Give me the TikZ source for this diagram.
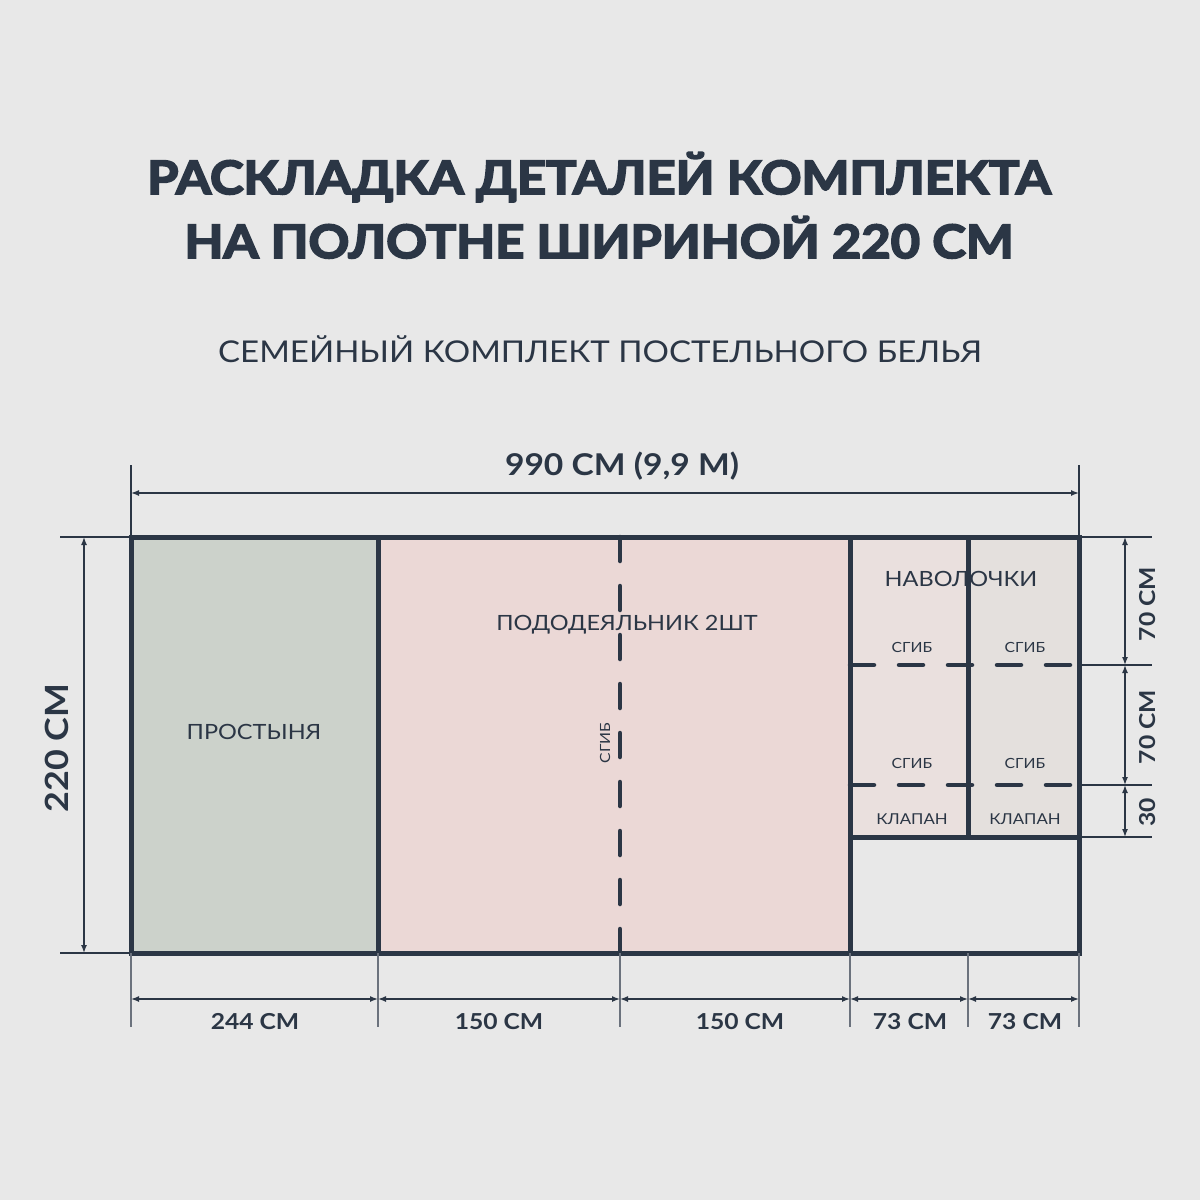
\documentclass[tikz,border=0pt]{standalone}
\usepackage{fontspec}
\setmainfont{Lato}[FakeStretch=1.12]
\newfontfamily\heavyfont{Lato}[FakeStretch=1.1,BoldFeatures={FakeBold=4}]
\newfontfamily\subfont{Lato}[FakeStretch=1.1]
\usetikzlibrary{arrows.meta}
\definecolor{ink}{HTML}{2B3645}
\definecolor{bg}{HTML}{E8E8E8}
\definecolor{sheetc}{HTML}{CCD2CB}
\definecolor{duvetc}{HTML}{EBD8D6}
\definecolor{pillowa}{HTML}{EAE0DE}
\definecolor{pillowb}{HTML}{E4E0DD}
\newcommand{\fsz}[1]{\fontsize{#1}{#1}\selectfont}
\tikzset{
  frame/.style={draw=ink,line width=5pt,line cap=butt},
  foldline/.style={draw=ink,line width=4.5pt,line cap=round,dash pattern=on 24pt off 25pt},
  extline/.style={draw=ink,line width=1.1pt},
  extgray/.style={draw=ink!70,line width=1.1pt},
  dimline/.style={draw=ink,line width=1.4pt,{Latex[length=8pt,width=6pt]}-{Latex[length=8pt,width=6pt]}},
  lbl/.style={text=ink,inner sep=0pt,anchor=base},
}
\begin{document}
\begin{tikzpicture}[x=1pt,y=-1pt]
\fill[bg] (0,0) rectangle (1200,1200);
\useasboundingbox (0,0) rectangle (1200,1200);

% corners
\coordinate (A) at (131,537);
\coordinate (B) at (1079,953);

% fills
\fill[sheetc] (131,537) rectangle (378,953);
\fill[duvetc] (378,537) rectangle (850,953);
\fill[pillowa] (850,537) rectangle (968,837);
\fill[pillowb] (968,537) rectangle (1079,837);

% fold lines
\coordinate (fT) at (620,537);
\coordinate (fB) at (620,953);
\draw[foldline] (fT) -- (fB);
\coordinate (h1a) at (850,665); \coordinate (h1b) at (1079,665);
\coordinate (h2a) at (850,785); \coordinate (h2b) at (1079,785);
\draw[foldline] (h1a) -- (h1b);
\draw[foldline] (h2a) -- (h2b);

% frame
\draw[frame] (A) rectangle (B);
\draw[frame] (378,537) -- (378,953);
\draw[frame] (850,537) -- (850,953);
\draw[frame] (968,537) -- (968,837);
\draw[frame] (850,837) -- (1079,837);

% top dimension
\draw[extline] (131,465) -- (131,537);
\draw[extline] (1079,465) -- (1079,537);
\coordinate (t1) at (131,493); \coordinate (t2) at (1079,493);
\draw[dimline] (t1) -- (t2);
\node[lbl,font=\bfseries\fsz{30}] (lw) at (622,475) {990 СМ (9,9 М)};

% left dimension
\draw[extline] (60,537) -- (131,537);
\draw[extline] (60,953) -- (131,953);
\coordinate (l1) at (84,537); \coordinate (l2) at (84,953);
\draw[dimline] (l1) -- (l2);
\node[lbl,rotate=90,font=\bfseries\fsz{32}] (lh) at (68,748) {220 СМ};

% right dimension
\foreach \yy in {537,665,785,837}{\draw[extline] (1079,\yy) -- (1152,\yy);}
\coordinate (r1) at (1125,537); \coordinate (r2) at (1125,665);
\coordinate (r3) at (1125,785); \coordinate (r4) at (1125,837);
\draw[dimline] (r1) -- (r2);
\draw[dimline] (r2) -- (r3);
\draw[dimline] (r3) -- (r4);
\node[lbl,rotate=90,font=\bfseries\fsz{22}] (rl1) at (1155,604) {70 СМ};
\node[lbl,rotate=90,font=\bfseries\fsz{22}] (rl2) at (1155,727) {70 СМ};
\node[lbl,rotate=90,font=\bfseries\fsz{22}] (rl3) at (1155,812) {30};

% bottom dimension
\foreach \xx in {131,378,620,850,968,1079}{\draw[extgray] (\xx,953) -- (\xx,1027);}
\coordinate (b1) at (131,999); \coordinate (b2) at (378,999);
\coordinate (b3) at (620,999); \coordinate (b4) at (850,999);
\coordinate (b5) at (968,999); \coordinate (b6) at (1079,999);
\draw[dimline] (b1) -- (b2);
\draw[dimline] (b2) -- (b3);
\draw[dimline] (b3) -- (b4);
\draw[dimline] (b4) -- (b5);
\draw[dimline] (b5) -- (b6);
\node[lbl,font=\bfseries\fsz{22}] (bl1) at (255,1029) {244 СМ};
\node[lbl,font=\bfseries\fsz{22}] (bl2) at (499,1029) {150 СМ};
\node[lbl,font=\bfseries\fsz{22}] (bl3) at (740,1029) {150 СМ};
\node[lbl,font=\bfseries\fsz{22}] (bl4) at (910,1029) {73 СМ};
\node[lbl,font=\bfseries\fsz{22}] (bl5) at (1025,1029) {73 СМ};

% titles
\node[lbl,font=\heavyfont\bfseries\fsz{46}] (title1) at (599,194) {РАСКЛАДКА ДЕТАЛЕЙ КОМПЛЕКТА};
\node[lbl,font=\heavyfont\bfseries\fsz{46}] (title2) at (599,258) {НА ПОЛОТНЕ ШИРИНОЙ 220 СМ};
\node[lbl,font=\subfont\fsz{30}] (sub) at (600,362) {СЕМЕЙНЫЙ КОМПЛЕКТ ПОСТЕЛЬНОГО БЕЛЬЯ};

% inner labels
\node[lbl,font=\fsz{21}] (ls) at (254,739) {ПРОСТЫНЯ};
\node[lbl,font=\fsz{21}] (ld) at (627,630) {ПОДОДЕЯЛЬНИК 2ШТ};
\node[lbl,font=\fsz{21}] (lp) at (961,586) {НАВОЛОЧКИ};
\node[lbl,rotate=90,font=\fsz{14}] (lf0) at (610,743) {СГИБ};
\node[lbl,font=\fsz{14}] (lf1) at (912,652) {СГИБ};
\node[lbl,font=\fsz{14}] (lf2) at (1025,652) {СГИБ};
\node[lbl,font=\fsz{14}] (lf3) at (912,768) {СГИБ};
\node[lbl,font=\fsz{14}] (lf4) at (1025,768) {СГИБ};
\node[lbl,font=\fsz{15}] (lk1) at (912,824) {КЛАПАН};
\node[lbl,font=\fsz{15}] (lk2) at (1025,824) {КЛАПАН};
\end{tikzpicture}
\end{document}
